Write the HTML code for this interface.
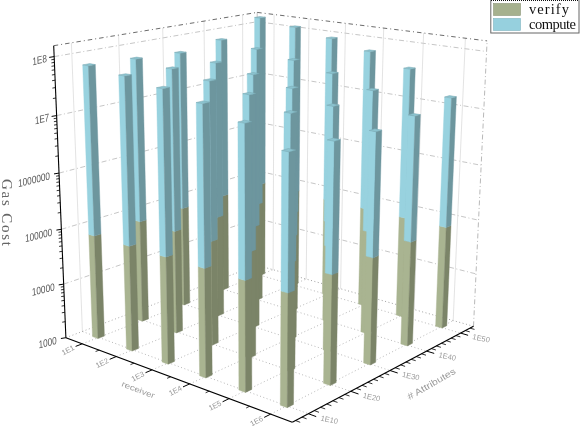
<!DOCTYPE html>
<html><head><meta charset="utf-8"><title>Gas Cost</title>
<style>html,body{margin:0;padding:0;background:#fff;}body{width:580px;height:426px;overflow:hidden;position:relative;}</style>
</head><body>
<svg width="580" height="426" viewBox="0 0 580 426" style="position:absolute;left:0;top:0">
<rect width="580" height="426" fill="#fff"/>
<line x1="63.7" y1="284.1" x2="257.1" y2="218.5" stroke="#a0a0a0" stroke-width="0.6" stroke-dasharray="5 2.5 1 2.5"/>
<line x1="257.1" y1="218.5" x2="476.0" y2="273.9" stroke="#a0a0a0" stroke-width="0.6" stroke-dasharray="5 2.5 1 2.5"/>
<line x1="61.4" y1="229.3" x2="257.1" y2="170.8" stroke="#a0a0a0" stroke-width="0.6" stroke-dasharray="5 2.5 1 2.5"/>
<line x1="257.1" y1="170.8" x2="478.6" y2="220.2" stroke="#a0a0a0" stroke-width="0.6" stroke-dasharray="5 2.5 1 2.5"/>
<line x1="59.0" y1="173.1" x2="257.1" y2="122.1" stroke="#a0a0a0" stroke-width="0.6" stroke-dasharray="5 2.5 1 2.5"/>
<line x1="257.1" y1="122.1" x2="481.2" y2="165.3" stroke="#a0a0a0" stroke-width="0.6" stroke-dasharray="5 2.5 1 2.5"/>
<line x1="56.6" y1="115.6" x2="257.2" y2="72.4" stroke="#a0a0a0" stroke-width="0.6" stroke-dasharray="5 2.5 1 2.5"/>
<line x1="257.2" y1="72.4" x2="483.9" y2="109.1" stroke="#a0a0a0" stroke-width="0.6" stroke-dasharray="5 2.5 1 2.5"/>
<line x1="54.2" y1="56.6" x2="257.2" y2="21.7" stroke="#a0a0a0" stroke-width="0.6" stroke-dasharray="5 2.5 1 2.5"/>
<line x1="257.2" y1="21.7" x2="486.6" y2="51.5" stroke="#a0a0a0" stroke-width="0.6" stroke-dasharray="5 2.5 1 2.5"/>
<line x1="82.4" y1="331.5" x2="71.4" y2="42.8" stroke="#d0d0d0" stroke-width="0.6"/>
<line x1="82.4" y1="331.5" x2="308.3" y2="413.7" stroke="#999" stroke-width="0.7" stroke-dasharray="1 2.5"/>
<line x1="126.6" y1="314.7" x2="118.6" y2="35.1" stroke="#d0d0d0" stroke-width="0.6"/>
<line x1="126.6" y1="314.7" x2="350.7" y2="391.3" stroke="#999" stroke-width="0.7" stroke-dasharray="1 2.5"/>
<line x1="167.9" y1="299.0" x2="162.7" y2="27.9" stroke="#d0d0d0" stroke-width="0.6"/>
<line x1="167.9" y1="299.0" x2="390.0" y2="370.5" stroke="#999" stroke-width="0.7" stroke-dasharray="1 2.5"/>
<line x1="206.8" y1="284.3" x2="204.0" y2="21.1" stroke="#d0d0d0" stroke-width="0.6"/>
<line x1="206.8" y1="284.3" x2="426.6" y2="351.1" stroke="#999" stroke-width="0.7" stroke-dasharray="1 2.5"/>
<line x1="243.3" y1="270.4" x2="242.6" y2="14.8" stroke="#d0d0d0" stroke-width="0.6"/>
<line x1="243.3" y1="270.4" x2="460.7" y2="333.1" stroke="#999" stroke-width="0.7" stroke-dasharray="1 2.5"/>
<line x1="273.1" y1="269.7" x2="274.1" y2="14.5" stroke="#d0d0d0" stroke-width="0.6"/>
<line x1="82.3" y1="343.8" x2="273.1" y2="269.7" stroke="#999" stroke-width="0.7" stroke-dasharray="1 2.5"/>
<line x1="306.2" y1="279.1" x2="309.0" y2="18.8" stroke="#d0d0d0" stroke-width="0.6"/>
<line x1="116.4" y1="356.5" x2="306.2" y2="279.1" stroke="#999" stroke-width="0.7" stroke-dasharray="1 2.5"/>
<line x1="340.6" y1="288.8" x2="345.5" y2="23.3" stroke="#d0d0d0" stroke-width="0.6"/>
<line x1="152.1" y1="369.9" x2="340.6" y2="288.8" stroke="#999" stroke-width="0.7" stroke-dasharray="1 2.5"/>
<line x1="376.6" y1="298.9" x2="383.7" y2="28.1" stroke="#d0d0d0" stroke-width="0.6"/>
<line x1="189.7" y1="383.9" x2="376.6" y2="298.9" stroke="#999" stroke-width="0.7" stroke-dasharray="1 2.5"/>
<line x1="414.1" y1="309.5" x2="423.6" y2="33.0" stroke="#d0d0d0" stroke-width="0.6"/>
<line x1="229.1" y1="398.6" x2="414.1" y2="309.5" stroke="#999" stroke-width="0.7" stroke-dasharray="1 2.5"/>
<line x1="453.2" y1="320.6" x2="465.4" y2="38.2" stroke="#d0d0d0" stroke-width="0.6"/>
<line x1="270.7" y1="414.1" x2="453.2" y2="320.6" stroke="#999" stroke-width="0.7" stroke-dasharray="1 2.5"/>
<line x1="65.9" y1="337.7" x2="257.1" y2="265.2" stroke="#888" stroke-width="0.7" stroke-dasharray="1 2.5"/>
<line x1="257.1" y1="265.2" x2="473.5" y2="326.3" stroke="#777" stroke-width="0.7" stroke-dasharray="1 2.5"/>
<line x1="257.1" y1="265.2" x2="257.2" y2="12.4" stroke="#aaa" stroke-width="0.7"/>
<line x1="473.5" y1="326.3" x2="487.1" y2="40.9" stroke="#999" stroke-width="0.7" stroke-dasharray="5 2.5 1 2.5"/>
<line x1="53.7" y1="45.7" x2="257.2" y2="12.4" stroke="#3a3a3a" stroke-width="0.75" stroke-dasharray="4.5 3 1 3"/>
<line x1="257.2" y1="12.4" x2="487.1" y2="40.9" stroke="#3a3a3a" stroke-width="0.75" stroke-dasharray="4.5 3 1 3"/>
<polygon points="254.6,274.0 259.9,275.5 260.0,184.5 254.6,183.2" fill="#a9b491" stroke="#a9b491" stroke-width="0.4" stroke-linejoin="round"/>
<polygon points="259.9,275.5 264.9,273.6 265.1,182.9 260.0,184.5" fill="#7b8468" stroke="#7b8468" stroke-width="0.4" stroke-linejoin="round"/>
<polygon points="254.6,183.2 260.0,184.5 260.1,18.1 254.6,17.4" fill="#98d2df" stroke="#98d2df" stroke-width="0.4" stroke-linejoin="round"/>
<polygon points="260.0,184.5 265.1,182.9 265.4,17.2 260.1,18.1" fill="#6d969e" stroke="#6d969e" stroke-width="0.4" stroke-linejoin="round"/>
<polygon points="254.6,17.4 260.1,18.1 265.4,17.2 259.9,16.5" fill="#8bc3cf" stroke="#7aa9b3" stroke-width="0.5" stroke-linejoin="round"/>
<polygon points="287.8,283.6 293.3,285.2 294.0,192.4 288.4,191.1" fill="#a9b491" stroke="#a9b491" stroke-width="0.4" stroke-linejoin="round"/>
<polygon points="293.3,285.2 298.2,283.2 299.1,190.7 294.0,192.4" fill="#7b8468" stroke="#7b8468" stroke-width="0.4" stroke-linejoin="round"/>
<polygon points="288.4,191.1 294.0,192.4 295.4,27.5 289.6,26.7" fill="#98d2df" stroke="#98d2df" stroke-width="0.4" stroke-linejoin="round"/>
<polygon points="294.0,192.4 299.1,190.7 300.6,26.5 295.4,27.5" fill="#6d969e" stroke="#6d969e" stroke-width="0.4" stroke-linejoin="round"/>
<polygon points="289.6,26.7 295.4,27.5 300.6,26.5 294.8,25.8" fill="#8bc3cf" stroke="#7aa9b3" stroke-width="0.5" stroke-linejoin="round"/>
<polygon points="322.4,293.6 328.1,295.2 329.6,200.6 323.7,199.2" fill="#a9b491" stroke="#a9b491" stroke-width="0.4" stroke-linejoin="round"/>
<polygon points="328.1,295.2 333.0,293.1 334.6,198.9 329.6,200.6" fill="#7b8468" stroke="#7b8468" stroke-width="0.4" stroke-linejoin="round"/>
<polygon points="323.7,199.2 329.6,200.6 332.1,38.7 326.1,37.9" fill="#98d2df" stroke="#98d2df" stroke-width="0.4" stroke-linejoin="round"/>
<polygon points="329.6,200.6 334.6,198.9 337.3,37.7 332.1,38.7" fill="#6d969e" stroke="#6d969e" stroke-width="0.4" stroke-linejoin="round"/>
<polygon points="326.1,37.9 332.1,38.7 337.3,37.7 331.3,36.9" fill="#8bc3cf" stroke="#7aa9b3" stroke-width="0.5" stroke-linejoin="round"/>
<polygon points="358.5,304.0 364.4,305.7 366.7,209.2 360.6,207.8" fill="#a9b491" stroke="#a9b491" stroke-width="0.4" stroke-linejoin="round"/>
<polygon points="364.4,305.7 369.3,303.5 371.7,207.4 366.7,209.2" fill="#7b8468" stroke="#7b8468" stroke-width="0.4" stroke-linejoin="round"/>
<polygon points="360.6,207.8 366.7,209.2 370.4,51.8 364.1,50.9" fill="#98d2df" stroke="#98d2df" stroke-width="0.4" stroke-linejoin="round"/>
<polygon points="366.7,209.2 371.7,207.4 375.6,50.7 370.4,51.8" fill="#6d969e" stroke="#6d969e" stroke-width="0.4" stroke-linejoin="round"/>
<polygon points="364.1,50.9 370.4,51.8 375.6,50.7 369.2,49.8" fill="#8bc3cf" stroke="#7aa9b3" stroke-width="0.5" stroke-linejoin="round"/>
<polygon points="396.2,314.9 402.4,316.7 405.6,218.2 399.2,216.7" fill="#a9b491" stroke="#a9b491" stroke-width="0.4" stroke-linejoin="round"/>
<polygon points="402.4,316.7 407.2,314.4 410.4,216.3 405.6,218.2" fill="#7b8468" stroke="#7b8468" stroke-width="0.4" stroke-linejoin="round"/>
<polygon points="399.2,216.7 405.6,218.2 410.3,69.2 403.7,68.2" fill="#98d2df" stroke="#98d2df" stroke-width="0.4" stroke-linejoin="round"/>
<polygon points="405.6,218.2 410.4,216.3 415.3,68.0 410.3,69.2" fill="#6d969e" stroke="#6d969e" stroke-width="0.4" stroke-linejoin="round"/>
<polygon points="403.7,68.2 410.3,69.2 415.3,68.0 408.8,67.0" fill="#8bc3cf" stroke="#7aa9b3" stroke-width="0.5" stroke-linejoin="round"/>
<polygon points="435.6,326.3 442.1,328.1 446.2,227.6 439.5,226.0" fill="#a9b491" stroke="#a9b491" stroke-width="0.4" stroke-linejoin="round"/>
<polygon points="442.1,328.1 446.8,325.7 451.0,225.6 446.2,227.6" fill="#7b8468" stroke="#7b8468" stroke-width="0.4" stroke-linejoin="round"/>
<polygon points="439.5,226.0 446.2,227.6 451.5,98.1 444.6,97.0" fill="#98d2df" stroke="#98d2df" stroke-width="0.4" stroke-linejoin="round"/>
<polygon points="446.2,227.6 451.0,225.6 456.4,96.7 451.5,98.1" fill="#6d969e" stroke="#6d969e" stroke-width="0.4" stroke-linejoin="round"/>
<polygon points="444.6,97.0 451.5,98.1 456.4,96.7 449.5,95.6" fill="#8bc3cf" stroke="#7aa9b3" stroke-width="0.5" stroke-linejoin="round"/>
<polygon points="217.9,288.2 223.2,289.8 222.5,196.1 217.1,194.8" fill="#a9b491" stroke="#a9b491" stroke-width="0.4" stroke-linejoin="round"/>
<polygon points="223.2,289.8 228.5,287.7 228.0,194.4 222.5,196.1" fill="#7b8468" stroke="#7b8468" stroke-width="0.4" stroke-linejoin="round"/>
<polygon points="217.1,194.8 222.5,196.1 221.4,40.3 215.8,39.5" fill="#98d2df" stroke="#98d2df" stroke-width="0.4" stroke-linejoin="round"/>
<polygon points="222.5,196.1 228.0,194.4 227.0,39.3 221.4,40.3" fill="#6d969e" stroke="#6d969e" stroke-width="0.4" stroke-linejoin="round"/>
<polygon points="215.8,39.5 221.4,40.3 227.0,39.3 221.5,38.5" fill="#8bc3cf" stroke="#7aa9b3" stroke-width="0.5" stroke-linejoin="round"/>
<polygon points="251.3,298.4 256.9,300.1 256.9,204.5 251.2,203.1" fill="#a9b491" stroke="#a9b491" stroke-width="0.4" stroke-linejoin="round"/>
<polygon points="256.9,300.1 262.2,297.9 262.3,202.8 256.9,204.5" fill="#7b8468" stroke="#7b8468" stroke-width="0.4" stroke-linejoin="round"/>
<polygon points="251.2,203.1 256.9,204.5 256.9,49.4 251.1,48.5" fill="#98d2df" stroke="#98d2df" stroke-width="0.4" stroke-linejoin="round"/>
<polygon points="256.9,204.5 262.3,202.8 262.5,48.3 256.9,49.4" fill="#6d969e" stroke="#6d969e" stroke-width="0.4" stroke-linejoin="round"/>
<polygon points="251.1,48.5 256.9,49.4 262.5,48.3 256.7,47.5" fill="#8bc3cf" stroke="#7aa9b3" stroke-width="0.5" stroke-linejoin="round"/>
<polygon points="286.2,309.0 292.0,310.8 292.8,213.3 286.9,211.9" fill="#a9b491" stroke="#a9b491" stroke-width="0.4" stroke-linejoin="round"/>
<polygon points="292.0,310.8 297.3,308.5 298.1,211.5 292.8,213.3" fill="#7b8468" stroke="#7b8468" stroke-width="0.4" stroke-linejoin="round"/>
<polygon points="286.9,211.9 292.8,213.3 294.0,60.5 287.9,59.6" fill="#98d2df" stroke="#98d2df" stroke-width="0.4" stroke-linejoin="round"/>
<polygon points="292.8,213.3 298.1,211.5 299.5,59.3 294.0,60.5" fill="#6d969e" stroke="#6d969e" stroke-width="0.4" stroke-linejoin="round"/>
<polygon points="287.9,59.6 294.0,60.5 299.5,59.3 293.4,58.4" fill="#8bc3cf" stroke="#7aa9b3" stroke-width="0.5" stroke-linejoin="round"/>
<polygon points="322.7,320.1 328.8,322.0 330.3,222.5 324.2,221.0" fill="#a9b491" stroke="#a9b491" stroke-width="0.4" stroke-linejoin="round"/>
<polygon points="328.8,322.0 333.9,319.6 335.6,220.6 330.3,222.5" fill="#7b8468" stroke="#7b8468" stroke-width="0.4" stroke-linejoin="round"/>
<polygon points="324.2,221.0 330.3,222.5 332.7,73.8 326.3,72.8" fill="#98d2df" stroke="#98d2df" stroke-width="0.4" stroke-linejoin="round"/>
<polygon points="330.3,222.5 335.6,220.6 338.2,72.5 332.7,73.8" fill="#6d969e" stroke="#6d969e" stroke-width="0.4" stroke-linejoin="round"/>
<polygon points="326.3,72.8 332.7,73.8 338.2,72.5 331.8,71.6" fill="#8bc3cf" stroke="#7aa9b3" stroke-width="0.5" stroke-linejoin="round"/>
<polygon points="360.9,331.8 367.2,333.7 369.7,232.1 363.2,230.5" fill="#a9b491" stroke="#a9b491" stroke-width="0.4" stroke-linejoin="round"/>
<polygon points="367.2,333.7 372.3,331.2 374.9,230.1 369.7,232.1" fill="#7b8468" stroke="#7b8468" stroke-width="0.4" stroke-linejoin="round"/>
<polygon points="363.2,230.5 369.7,232.1 373.1,90.7 366.5,89.6" fill="#98d2df" stroke="#98d2df" stroke-width="0.4" stroke-linejoin="round"/>
<polygon points="369.7,232.1 374.9,230.1 378.5,89.3 373.1,90.7" fill="#6d969e" stroke="#6d969e" stroke-width="0.4" stroke-linejoin="round"/>
<polygon points="366.5,89.6 373.1,90.7 378.5,89.3 371.8,88.3" fill="#8bc3cf" stroke="#7aa9b3" stroke-width="0.5" stroke-linejoin="round"/>
<polygon points="400.8,343.9 407.4,345.9 410.9,242.2 404.1,240.5" fill="#a9b491" stroke="#a9b491" stroke-width="0.4" stroke-linejoin="round"/>
<polygon points="407.4,345.9 412.5,343.3 416.1,240.1 410.9,242.2" fill="#7b8468" stroke="#7b8468" stroke-width="0.4" stroke-linejoin="round"/>
<polygon points="404.1,240.5 410.9,242.2 415.1,116.1 408.1,114.9" fill="#98d2df" stroke="#98d2df" stroke-width="0.4" stroke-linejoin="round"/>
<polygon points="410.9,242.2 416.1,240.1 420.4,114.6 415.1,116.1" fill="#6d969e" stroke="#6d969e" stroke-width="0.4" stroke-linejoin="round"/>
<polygon points="408.1,114.9 415.1,116.1 420.4,114.6 413.4,113.4" fill="#8bc3cf" stroke="#7aa9b3" stroke-width="0.5" stroke-linejoin="round"/>
<polygon points="178.8,303.3 184.1,305.0 182.6,208.6 177.2,207.1" fill="#a9b491" stroke="#a9b491" stroke-width="0.4" stroke-linejoin="round"/>
<polygon points="184.1,305.0 189.8,302.8 188.4,206.7 182.6,208.6" fill="#7b8468" stroke="#7b8468" stroke-width="0.4" stroke-linejoin="round"/>
<polygon points="177.2,207.1 182.6,208.6 180.2,53.3 174.6,52.4" fill="#98d2df" stroke="#98d2df" stroke-width="0.4" stroke-linejoin="round"/>
<polygon points="182.6,208.6 188.4,206.7 186.2,52.2 180.2,53.3" fill="#6d969e" stroke="#6d969e" stroke-width="0.4" stroke-linejoin="round"/>
<polygon points="174.6,52.4 180.2,53.3 186.2,52.2 180.6,51.3" fill="#8bc3cf" stroke="#7aa9b3" stroke-width="0.5" stroke-linejoin="round"/>
<polygon points="212.5,314.2 218.0,316.0 217.2,217.5 211.5,216.0" fill="#a9b491" stroke="#a9b491" stroke-width="0.4" stroke-linejoin="round"/>
<polygon points="218.0,316.0 223.7,313.6 223.0,215.6 217.2,217.5" fill="#7b8468" stroke="#7b8468" stroke-width="0.4" stroke-linejoin="round"/>
<polygon points="211.5,216.0 217.2,217.5 215.9,63.1 210.1,62.2" fill="#98d2df" stroke="#98d2df" stroke-width="0.4" stroke-linejoin="round"/>
<polygon points="217.2,217.5 223.0,215.6 221.9,61.9 215.9,63.1" fill="#6d969e" stroke="#6d969e" stroke-width="0.4" stroke-linejoin="round"/>
<polygon points="210.1,62.2 215.9,63.1 221.9,61.9 216.0,61.0" fill="#8bc3cf" stroke="#7aa9b3" stroke-width="0.5" stroke-linejoin="round"/>
<polygon points="247.7,325.5 253.5,327.4 253.4,226.9 247.5,225.4" fill="#a9b491" stroke="#a9b491" stroke-width="0.4" stroke-linejoin="round"/>
<polygon points="253.5,327.4 259.1,325.0 259.2,224.9 253.4,226.9" fill="#7b8468" stroke="#7b8468" stroke-width="0.4" stroke-linejoin="round"/>
<polygon points="247.5,225.4 253.4,226.9 253.4,74.8 247.2,73.8" fill="#98d2df" stroke="#98d2df" stroke-width="0.4" stroke-linejoin="round"/>
<polygon points="253.4,226.9 259.2,224.9 259.3,73.5 253.4,74.8" fill="#6d969e" stroke="#6d969e" stroke-width="0.4" stroke-linejoin="round"/>
<polygon points="247.2,73.8 253.4,74.8 259.3,73.5 253.1,72.5" fill="#8bc3cf" stroke="#7aa9b3" stroke-width="0.5" stroke-linejoin="round"/>
<polygon points="284.5,337.4 290.6,339.4 291.4,236.7 285.1,235.1" fill="#a9b491" stroke="#a9b491" stroke-width="0.4" stroke-linejoin="round"/>
<polygon points="290.6,339.4 296.2,336.8 297.1,234.7 291.4,236.7" fill="#7b8468" stroke="#7b8468" stroke-width="0.4" stroke-linejoin="round"/>
<polygon points="285.1,235.1 291.4,236.7 292.5,88.6 286.1,87.5" fill="#98d2df" stroke="#98d2df" stroke-width="0.4" stroke-linejoin="round"/>
<polygon points="291.4,236.7 297.1,234.7 298.4,87.2 292.5,88.6" fill="#6d969e" stroke="#6d969e" stroke-width="0.4" stroke-linejoin="round"/>
<polygon points="286.1,87.5 292.5,88.6 298.4,87.2 291.9,86.1" fill="#8bc3cf" stroke="#7aa9b3" stroke-width="0.5" stroke-linejoin="round"/>
<polygon points="323.1,349.8 329.5,351.9 331.2,247.1 324.6,245.4" fill="#a9b491" stroke="#a9b491" stroke-width="0.4" stroke-linejoin="round"/>
<polygon points="329.5,351.9 335.0,349.2 336.8,244.9 331.2,247.1" fill="#7b8468" stroke="#7b8468" stroke-width="0.4" stroke-linejoin="round"/>
<polygon points="324.6,245.4 331.2,247.1 333.5,106.4 326.7,105.2" fill="#98d2df" stroke="#98d2df" stroke-width="0.4" stroke-linejoin="round"/>
<polygon points="331.2,247.1 336.8,244.9 339.2,104.9 333.5,106.4" fill="#6d969e" stroke="#6d969e" stroke-width="0.4" stroke-linejoin="round"/>
<polygon points="326.7,105.2 333.5,106.4 339.2,104.9 332.5,103.7" fill="#8bc3cf" stroke="#7aa9b3" stroke-width="0.5" stroke-linejoin="round"/>
<polygon points="363.6,362.9 370.3,365.0 373.0,257.9 366.1,256.1" fill="#a9b491" stroke="#a9b491" stroke-width="0.4" stroke-linejoin="round"/>
<polygon points="370.3,365.0 375.7,362.3 378.5,255.6 373.0,257.9" fill="#7b8468" stroke="#7b8468" stroke-width="0.4" stroke-linejoin="round"/>
<polygon points="366.1,256.1 373.0,257.9 376.2,131.8 369.1,130.5" fill="#98d2df" stroke="#98d2df" stroke-width="0.4" stroke-linejoin="round"/>
<polygon points="373.0,257.9 378.5,255.6 381.8,130.1 376.2,131.8" fill="#6d969e" stroke="#6d969e" stroke-width="0.4" stroke-linejoin="round"/>
<polygon points="369.1,130.5 376.2,131.8 381.8,130.1 374.8,128.8" fill="#8bc3cf" stroke="#7aa9b3" stroke-width="0.5" stroke-linejoin="round"/>
<polygon points="137.1,319.4 142.4,321.2 140.0,221.8 134.5,220.3" fill="#a9b491" stroke="#a9b491" stroke-width="0.4" stroke-linejoin="round"/>
<polygon points="142.4,321.2 148.5,318.9 146.2,219.9 140.0,221.8" fill="#7b8468" stroke="#7b8468" stroke-width="0.4" stroke-linejoin="round"/>
<polygon points="134.5,220.3 140.0,221.8 135.9,59.2 130.3,58.3" fill="#98d2df" stroke="#98d2df" stroke-width="0.4" stroke-linejoin="round"/>
<polygon points="140.0,221.8 146.2,219.9 142.4,58.0 135.9,59.2" fill="#6d969e" stroke="#6d969e" stroke-width="0.4" stroke-linejoin="round"/>
<polygon points="130.3,58.3 135.9,59.2 142.4,58.0 136.7,57.1" fill="#8bc3cf" stroke="#7aa9b3" stroke-width="0.5" stroke-linejoin="round"/>
<polygon points="170.9,331.0 176.5,332.9 174.8,231.4 169.1,229.8" fill="#a9b491" stroke="#a9b491" stroke-width="0.4" stroke-linejoin="round"/>
<polygon points="176.5,332.9 182.6,330.5 181.0,229.4 174.8,231.4" fill="#7b8468" stroke="#7b8468" stroke-width="0.4" stroke-linejoin="round"/>
<polygon points="169.1,229.8 174.8,231.4 172.0,69.1 166.0,68.1" fill="#98d2df" stroke="#98d2df" stroke-width="0.4" stroke-linejoin="round"/>
<polygon points="174.8,231.4 181.0,229.4 178.4,67.8 172.0,69.1" fill="#6d969e" stroke="#6d969e" stroke-width="0.4" stroke-linejoin="round"/>
<polygon points="166.0,68.1 172.0,69.1 178.4,67.8 172.5,66.8" fill="#8bc3cf" stroke="#7aa9b3" stroke-width="0.5" stroke-linejoin="round"/>
<polygon points="206.4,343.1 212.3,345.2 211.3,241.5 205.3,239.8" fill="#a9b491" stroke="#a9b491" stroke-width="0.4" stroke-linejoin="round"/>
<polygon points="212.3,345.2 218.3,342.6 217.4,239.4 211.3,241.5" fill="#7b8468" stroke="#7b8468" stroke-width="0.4" stroke-linejoin="round"/>
<polygon points="205.3,239.8 211.3,241.5 209.7,81.1 203.5,80.0" fill="#98d2df" stroke="#98d2df" stroke-width="0.4" stroke-linejoin="round"/>
<polygon points="211.3,241.5 217.4,239.4 216.1,79.7 209.7,81.1" fill="#6d969e" stroke="#6d969e" stroke-width="0.4" stroke-linejoin="round"/>
<polygon points="203.5,80.0 209.7,81.1 216.1,79.7 209.9,78.7" fill="#8bc3cf" stroke="#7aa9b3" stroke-width="0.5" stroke-linejoin="round"/>
<polygon points="243.6,355.9 249.7,358.0 249.6,252.0 243.3,250.3" fill="#a9b491" stroke="#a9b491" stroke-width="0.4" stroke-linejoin="round"/>
<polygon points="249.7,358.0 255.7,355.3 255.7,249.8 249.6,252.0" fill="#7b8468" stroke="#7b8468" stroke-width="0.4" stroke-linejoin="round"/>
<polygon points="243.3,250.3 249.6,252.0 249.4,94.9 242.8,93.7" fill="#98d2df" stroke="#98d2df" stroke-width="0.4" stroke-linejoin="round"/>
<polygon points="249.6,252.0 255.7,249.8 255.7,93.4 249.4,94.9" fill="#6d969e" stroke="#6d969e" stroke-width="0.4" stroke-linejoin="round"/>
<polygon points="242.8,93.7 249.4,94.9 255.7,93.4 249.2,92.3" fill="#8bc3cf" stroke="#7aa9b3" stroke-width="0.5" stroke-linejoin="round"/>
<polygon points="282.6,369.2 289.0,371.4 289.8,263.1 283.2,261.3" fill="#a9b491" stroke="#a9b491" stroke-width="0.4" stroke-linejoin="round"/>
<polygon points="289.0,371.4 294.9,368.6 295.9,260.8 289.8,263.1" fill="#7b8468" stroke="#7b8468" stroke-width="0.4" stroke-linejoin="round"/>
<polygon points="283.2,261.3 289.8,263.1 290.9,113.4 284.1,112.1" fill="#98d2df" stroke="#98d2df" stroke-width="0.4" stroke-linejoin="round"/>
<polygon points="289.8,263.1 295.9,260.8 297.1,111.8 290.9,113.4" fill="#6d969e" stroke="#6d969e" stroke-width="0.4" stroke-linejoin="round"/>
<polygon points="284.1,112.1 290.9,113.4 297.1,111.8 290.3,110.6" fill="#8bc3cf" stroke="#7aa9b3" stroke-width="0.5" stroke-linejoin="round"/>
<polygon points="323.5,383.3 330.3,385.6 332.2,274.8 325.2,272.9" fill="#a9b491" stroke="#a9b491" stroke-width="0.4" stroke-linejoin="round"/>
<polygon points="330.3,385.6 336.2,382.6 338.1,272.3 332.2,274.8" fill="#7b8468" stroke="#7b8468" stroke-width="0.4" stroke-linejoin="round"/>
<polygon points="325.2,272.9 332.2,274.8 334.4,141.3 327.2,139.9" fill="#98d2df" stroke="#98d2df" stroke-width="0.4" stroke-linejoin="round"/>
<polygon points="332.2,274.8 338.1,272.3 340.5,139.5 334.4,141.3" fill="#6d969e" stroke="#6d969e" stroke-width="0.4" stroke-linejoin="round"/>
<polygon points="327.2,139.9 334.4,141.3 340.5,139.5 333.3,138.1" fill="#8bc3cf" stroke="#7aa9b3" stroke-width="0.5" stroke-linejoin="round"/>
<polygon points="92.5,336.6 97.9,338.6 94.3,236.0 88.8,234.4" fill="#a9b491" stroke="#a9b491" stroke-width="0.4" stroke-linejoin="round"/>
<polygon points="97.9,338.6 104.4,336.1 101.0,234.0 94.3,236.0" fill="#7b8468" stroke="#7b8468" stroke-width="0.4" stroke-linejoin="round"/>
<polygon points="88.8,234.4 94.3,236.0 88.4,65.9 82.7,64.9" fill="#98d2df" stroke="#98d2df" stroke-width="0.4" stroke-linejoin="round"/>
<polygon points="94.3,236.0 101.0,234.0 95.3,64.6 88.4,65.9" fill="#6d969e" stroke="#6d969e" stroke-width="0.4" stroke-linejoin="round"/>
<polygon points="82.7,64.9 88.4,65.9 95.3,64.6 89.7,63.6" fill="#8bc3cf" stroke="#7aa9b3" stroke-width="0.5" stroke-linejoin="round"/>
<polygon points="126.5,349.0 132.1,351.1 129.3,246.3 123.5,244.6" fill="#a9b491" stroke="#a9b491" stroke-width="0.4" stroke-linejoin="round"/>
<polygon points="132.1,351.1 138.6,348.4 135.9,244.2 129.3,246.3" fill="#7b8468" stroke="#7b8468" stroke-width="0.4" stroke-linejoin="round"/>
<polygon points="123.5,244.6 129.3,246.3 124.6,76.1 118.7,75.0" fill="#98d2df" stroke="#98d2df" stroke-width="0.4" stroke-linejoin="round"/>
<polygon points="129.3,246.3 135.9,244.2 131.5,74.7 124.6,76.1" fill="#6d969e" stroke="#6d969e" stroke-width="0.4" stroke-linejoin="round"/>
<polygon points="118.7,75.0 124.6,76.1 131.5,74.7 125.6,73.7" fill="#8bc3cf" stroke="#7aa9b3" stroke-width="0.5" stroke-linejoin="round"/>
<polygon points="162.1,362.1 168.1,364.2 166.0,257.1 159.9,255.4" fill="#a9b491" stroke="#a9b491" stroke-width="0.4" stroke-linejoin="round"/>
<polygon points="168.1,364.2 174.5,361.4 172.6,254.9 166.0,257.1" fill="#7b8468" stroke="#7b8468" stroke-width="0.4" stroke-linejoin="round"/>
<polygon points="159.9,255.4 166.0,257.1 162.7,88.8 156.5,87.7" fill="#98d2df" stroke="#98d2df" stroke-width="0.4" stroke-linejoin="round"/>
<polygon points="166.0,257.1 172.6,254.9 169.6,87.3 162.7,88.8" fill="#6d969e" stroke="#6d969e" stroke-width="0.4" stroke-linejoin="round"/>
<polygon points="156.5,87.7 162.7,88.8 169.6,87.3 163.3,86.2" fill="#8bc3cf" stroke="#7aa9b3" stroke-width="0.5" stroke-linejoin="round"/>
<polygon points="199.6,375.7 205.8,378.0 204.6,268.5 198.2,266.6" fill="#a9b491" stroke="#a9b491" stroke-width="0.4" stroke-linejoin="round"/>
<polygon points="205.8,378.0 212.2,375.1 211.1,266.1 204.6,268.5" fill="#7b8468" stroke="#7b8468" stroke-width="0.4" stroke-linejoin="round"/>
<polygon points="198.2,266.6 204.6,268.5 202.7,103.7 196.2,102.5" fill="#98d2df" stroke="#98d2df" stroke-width="0.4" stroke-linejoin="round"/>
<polygon points="204.6,268.5 211.1,266.1 209.6,102.1 202.7,103.7" fill="#6d969e" stroke="#6d969e" stroke-width="0.4" stroke-linejoin="round"/>
<polygon points="196.2,102.5 202.7,103.7 209.6,102.1 203.0,100.9" fill="#8bc3cf" stroke="#7aa9b3" stroke-width="0.5" stroke-linejoin="round"/>
<polygon points="238.9,390.1 245.5,392.5 245.2,280.5 238.5,278.5" fill="#a9b491" stroke="#a9b491" stroke-width="0.4" stroke-linejoin="round"/>
<polygon points="245.5,392.5 251.8,389.4 251.7,277.9 245.2,280.5" fill="#7b8468" stroke="#7b8468" stroke-width="0.4" stroke-linejoin="round"/>
<polygon points="238.5,278.5 245.2,280.5 244.8,123.3 237.9,122.0" fill="#98d2df" stroke="#98d2df" stroke-width="0.4" stroke-linejoin="round"/>
<polygon points="245.2,280.5 251.7,277.9 251.6,121.6 244.8,123.3" fill="#6d969e" stroke="#6d969e" stroke-width="0.4" stroke-linejoin="round"/>
<polygon points="237.9,122.0 244.8,123.3 251.6,121.6 244.7,120.2" fill="#8bc3cf" stroke="#7aa9b3" stroke-width="0.5" stroke-linejoin="round"/>
<polygon points="280.3,405.2 287.2,407.7 288.0,293.1 281.0,291.0" fill="#a9b491" stroke="#a9b491" stroke-width="0.4" stroke-linejoin="round"/>
<polygon points="287.2,407.7 293.5,404.5 294.5,290.4 288.0,293.1" fill="#7b8468" stroke="#7b8468" stroke-width="0.4" stroke-linejoin="round"/>
<polygon points="281.0,291.0 288.0,293.1 289.0,151.9 281.7,150.4" fill="#98d2df" stroke="#98d2df" stroke-width="0.4" stroke-linejoin="round"/>
<polygon points="288.0,293.1 294.5,290.4 295.7,150.0 289.0,151.9" fill="#6d969e" stroke="#6d969e" stroke-width="0.4" stroke-linejoin="round"/>
<polygon points="281.7,150.4 289.0,151.9 295.7,150.0 288.4,148.5" fill="#8bc3cf" stroke="#7aa9b3" stroke-width="0.5" stroke-linejoin="round"/>
<line x1="65.9" y1="337.7" x2="53.7" y2="45.7" stroke="#000" stroke-width="1.1"/>
<line x1="65.9" y1="337.7" x2="292.3" y2="422.2" stroke="#000" stroke-width="1.2"/>
<line x1="292.3" y1="422.2" x2="473.5" y2="326.3" stroke="#000" stroke-width="1.2"/>
<line x1="65.9" y1="337.7" x2="60.9" y2="338.5" stroke="#000" stroke-width="1"/>
<line x1="65.2" y1="321.7" x2="62.2" y2="322.2" stroke="#000" stroke-width="0.8"/>
<line x1="64.8" y1="312.3" x2="61.8" y2="312.8" stroke="#000" stroke-width="0.8"/>
<line x1="64.6" y1="305.6" x2="61.6" y2="306.1" stroke="#000" stroke-width="0.8"/>
<line x1="64.3" y1="300.4" x2="61.3" y2="300.9" stroke="#000" stroke-width="0.8"/>
<line x1="64.2" y1="296.1" x2="61.2" y2="296.6" stroke="#000" stroke-width="0.8"/>
<line x1="64.0" y1="292.5" x2="61.0" y2="293.0" stroke="#000" stroke-width="0.8"/>
<line x1="63.9" y1="289.4" x2="60.9" y2="289.9" stroke="#000" stroke-width="0.8"/>
<line x1="63.8" y1="286.6" x2="60.8" y2="287.1" stroke="#000" stroke-width="0.8"/>
<line x1="63.7" y1="284.1" x2="58.7" y2="284.9" stroke="#000" stroke-width="1"/>
<line x1="63.0" y1="267.8" x2="60.0" y2="268.3" stroke="#000" stroke-width="0.8"/>
<line x1="62.6" y1="258.1" x2="59.6" y2="258.6" stroke="#000" stroke-width="0.8"/>
<line x1="62.3" y1="251.3" x2="59.3" y2="251.8" stroke="#000" stroke-width="0.8"/>
<line x1="62.1" y1="245.9" x2="59.1" y2="246.4" stroke="#000" stroke-width="0.8"/>
<line x1="61.9" y1="241.6" x2="58.9" y2="242.1" stroke="#000" stroke-width="0.8"/>
<line x1="61.7" y1="237.9" x2="58.7" y2="238.4" stroke="#000" stroke-width="0.8"/>
<line x1="61.6" y1="234.7" x2="58.6" y2="235.2" stroke="#000" stroke-width="0.8"/>
<line x1="61.5" y1="231.8" x2="58.5" y2="232.3" stroke="#000" stroke-width="0.8"/>
<line x1="61.4" y1="229.3" x2="56.4" y2="230.1" stroke="#000" stroke-width="1"/>
<line x1="60.7" y1="212.5" x2="57.7" y2="213.0" stroke="#000" stroke-width="0.8"/>
<line x1="60.3" y1="202.6" x2="57.3" y2="203.1" stroke="#000" stroke-width="0.8"/>
<line x1="60.0" y1="195.6" x2="57.0" y2="196.1" stroke="#000" stroke-width="0.8"/>
<line x1="59.7" y1="190.2" x2="56.7" y2="190.7" stroke="#000" stroke-width="0.8"/>
<line x1="59.5" y1="185.7" x2="56.5" y2="186.2" stroke="#000" stroke-width="0.8"/>
<line x1="59.4" y1="181.9" x2="56.4" y2="182.4" stroke="#000" stroke-width="0.8"/>
<line x1="59.2" y1="178.6" x2="56.2" y2="179.1" stroke="#000" stroke-width="0.8"/>
<line x1="59.1" y1="175.7" x2="56.1" y2="176.2" stroke="#000" stroke-width="0.8"/>
<line x1="59.0" y1="173.1" x2="54.0" y2="173.9" stroke="#000" stroke-width="1"/>
<line x1="58.3" y1="155.9" x2="55.3" y2="156.4" stroke="#000" stroke-width="0.8"/>
<line x1="57.9" y1="145.8" x2="54.9" y2="146.3" stroke="#000" stroke-width="0.8"/>
<line x1="57.6" y1="138.6" x2="54.6" y2="139.1" stroke="#000" stroke-width="0.8"/>
<line x1="57.3" y1="133.0" x2="54.3" y2="133.5" stroke="#000" stroke-width="0.8"/>
<line x1="57.2" y1="128.4" x2="54.2" y2="128.9" stroke="#000" stroke-width="0.8"/>
<line x1="57.0" y1="124.6" x2="54.0" y2="125.1" stroke="#000" stroke-width="0.8"/>
<line x1="56.9" y1="121.2" x2="53.9" y2="121.7" stroke="#000" stroke-width="0.8"/>
<line x1="56.7" y1="118.2" x2="53.7" y2="118.7" stroke="#000" stroke-width="0.8"/>
<line x1="56.6" y1="115.6" x2="51.6" y2="116.4" stroke="#000" stroke-width="1"/>
<line x1="55.9" y1="98.0" x2="52.9" y2="98.5" stroke="#000" stroke-width="0.8"/>
<line x1="55.4" y1="87.6" x2="52.4" y2="88.1" stroke="#000" stroke-width="0.8"/>
<line x1="55.1" y1="80.2" x2="52.1" y2="80.7" stroke="#000" stroke-width="0.8"/>
<line x1="54.9" y1="74.5" x2="51.9" y2="75.0" stroke="#000" stroke-width="0.8"/>
<line x1="54.7" y1="69.8" x2="51.7" y2="70.3" stroke="#000" stroke-width="0.8"/>
<line x1="54.5" y1="65.8" x2="51.5" y2="66.3" stroke="#000" stroke-width="0.8"/>
<line x1="54.4" y1="62.4" x2="51.4" y2="62.9" stroke="#000" stroke-width="0.8"/>
<line x1="54.3" y1="59.3" x2="51.3" y2="59.8" stroke="#000" stroke-width="0.8"/>
<line x1="54.2" y1="56.6" x2="49.2" y2="57.4" stroke="#000" stroke-width="1"/>
<line x1="82.3" y1="343.8" x2="75.6" y2="346.4" stroke="#000" stroke-width="1"/>
<line x1="99.2" y1="350.1" x2="95.6" y2="351.5" stroke="#000" stroke-width="0.8"/>
<line x1="116.4" y1="356.5" x2="109.7" y2="359.3" stroke="#000" stroke-width="1"/>
<line x1="134.0" y1="363.1" x2="130.5" y2="364.6" stroke="#000" stroke-width="0.8"/>
<line x1="152.1" y1="369.9" x2="145.5" y2="372.7" stroke="#000" stroke-width="1"/>
<line x1="170.7" y1="376.8" x2="167.1" y2="378.3" stroke="#000" stroke-width="0.8"/>
<line x1="189.7" y1="383.9" x2="183.0" y2="386.9" stroke="#000" stroke-width="1"/>
<line x1="209.2" y1="391.1" x2="205.6" y2="392.8" stroke="#000" stroke-width="0.8"/>
<line x1="229.1" y1="398.6" x2="222.6" y2="401.8" stroke="#000" stroke-width="1"/>
<line x1="249.7" y1="406.2" x2="246.2" y2="408.0" stroke="#000" stroke-width="0.8"/>
<line x1="270.7" y1="414.1" x2="264.2" y2="417.4" stroke="#000" stroke-width="1"/>
<line x1="308.3" y1="413.7" x2="316.2" y2="416.6" stroke="#000" stroke-width="1"/>
<line x1="295.4" y1="420.5" x2="300.2" y2="422.3" stroke="#000" stroke-width="0.8"/>
<line x1="301.9" y1="417.1" x2="306.6" y2="418.8" stroke="#000" stroke-width="0.8"/>
<line x1="350.7" y1="391.3" x2="358.5" y2="394.0" stroke="#000" stroke-width="1"/>
<line x1="314.3" y1="410.6" x2="319.0" y2="412.3" stroke="#000" stroke-width="0.8"/>
<line x1="320.5" y1="407.3" x2="325.2" y2="408.9" stroke="#000" stroke-width="0.8"/>
<line x1="326.7" y1="404.0" x2="331.4" y2="405.7" stroke="#000" stroke-width="0.8"/>
<line x1="332.8" y1="400.8" x2="337.5" y2="402.4" stroke="#000" stroke-width="0.8"/>
<line x1="338.8" y1="397.6" x2="343.5" y2="399.2" stroke="#000" stroke-width="0.8"/>
<line x1="344.8" y1="394.4" x2="349.5" y2="396.0" stroke="#000" stroke-width="0.8"/>
<line x1="390.0" y1="370.5" x2="397.7" y2="373.0" stroke="#000" stroke-width="1"/>
<line x1="356.3" y1="388.4" x2="360.9" y2="389.9" stroke="#000" stroke-width="0.8"/>
<line x1="362.0" y1="385.3" x2="366.7" y2="386.9" stroke="#000" stroke-width="0.8"/>
<line x1="367.8" y1="382.3" x2="372.4" y2="383.8" stroke="#000" stroke-width="0.8"/>
<line x1="373.4" y1="379.3" x2="378.0" y2="380.8" stroke="#000" stroke-width="0.8"/>
<line x1="379.0" y1="376.3" x2="383.6" y2="377.8" stroke="#000" stroke-width="0.8"/>
<line x1="384.5" y1="373.4" x2="389.2" y2="374.9" stroke="#000" stroke-width="0.8"/>
<line x1="426.6" y1="351.1" x2="434.2" y2="353.4" stroke="#000" stroke-width="1"/>
<line x1="395.2" y1="367.8" x2="399.8" y2="369.2" stroke="#000" stroke-width="0.8"/>
<line x1="400.6" y1="364.9" x2="405.1" y2="366.4" stroke="#000" stroke-width="0.8"/>
<line x1="405.9" y1="362.1" x2="410.4" y2="363.5" stroke="#000" stroke-width="0.8"/>
<line x1="411.1" y1="359.3" x2="415.7" y2="360.7" stroke="#000" stroke-width="0.8"/>
<line x1="416.3" y1="356.6" x2="420.9" y2="358.0" stroke="#000" stroke-width="0.8"/>
<line x1="421.5" y1="353.8" x2="426.0" y2="355.2" stroke="#000" stroke-width="0.8"/>
<line x1="460.7" y1="333.1" x2="468.1" y2="335.3" stroke="#000" stroke-width="1"/>
<line x1="431.4" y1="348.6" x2="435.9" y2="350.0" stroke="#000" stroke-width="0.8"/>
<line x1="436.4" y1="346.0" x2="440.9" y2="347.3" stroke="#000" stroke-width="0.8"/>
<line x1="441.4" y1="343.3" x2="445.9" y2="344.7" stroke="#000" stroke-width="0.8"/>
<line x1="446.3" y1="340.7" x2="450.8" y2="342.1" stroke="#000" stroke-width="0.8"/>
<line x1="451.1" y1="338.2" x2="455.6" y2="339.5" stroke="#000" stroke-width="0.8"/>
<line x1="455.9" y1="335.6" x2="460.4" y2="336.9" stroke="#000" stroke-width="0.8"/>
<line x1="465.4" y1="330.6" x2="469.8" y2="331.9" stroke="#000" stroke-width="0.8"/>
<line x1="470.1" y1="328.2" x2="474.5" y2="329.4" stroke="#000" stroke-width="0.8"/>
<text x="0" y="0" font-family="Liberation Sans, sans-serif" font-size="10.5" fill="#555" text-anchor="end" transform="translate(56.9 343.9) rotate(-14) skewX(-12) scale(0.8 1)">1000</text>
<text x="0" y="0" font-family="Liberation Sans, sans-serif" font-size="10.5" fill="#555" text-anchor="end" transform="translate(54.7 290.3) rotate(-14) skewX(-12) scale(0.8 1)">10000</text>
<text x="0" y="0" font-family="Liberation Sans, sans-serif" font-size="10.5" fill="#555" text-anchor="end" transform="translate(52.4 235.5) rotate(-14) skewX(-12) scale(0.8 1)">100000</text>
<text x="0" y="0" font-family="Liberation Sans, sans-serif" font-size="10.5" fill="#555" text-anchor="end" transform="translate(50.0 179.3) rotate(-14) skewX(-12) scale(0.8 1)">1000000</text>
<text x="0" y="0" font-family="Liberation Sans, sans-serif" font-size="10.5" fill="#555" text-anchor="end" transform="translate(49.4 120.8) rotate(-14) skewX(-12) scale(0.8 1)">1E7</text>
<text x="0" y="0" font-family="Liberation Sans, sans-serif" font-size="10.5" fill="#555" text-anchor="end" transform="translate(47.0 61.8) rotate(-14) skewX(-12) scale(0.8 1)">1E8</text>
<rect x="490.8" y="-2" width="88.2" height="35" fill="#fff" stroke="#666" stroke-width="1"/><line x1="491" y1="0.5" x2="579" y2="0.5" stroke="#111" stroke-width="1" stroke-dasharray="1 1"/>
<rect x="493.5" y="3.5" width="27" height="12" fill="#a6b18e" stroke="#8d9779" stroke-width="0.6"/>
<rect x="493.5" y="18.5" width="27" height="12" fill="#96d0de" stroke="#7fb4c0" stroke-width="0.6"/>
<text x="529" y="14" font-family="Liberation Serif, serif" font-size="14.5" fill="#111" textLength="40" lengthAdjust="spacing">verify</text>
<text x="529" y="29" font-family="Liberation Serif, serif" font-size="14.5" fill="#111" textLength="47" lengthAdjust="spacing">compute</text>
<text x="2" y="179" font-family="Liberation Serif, serif" font-size="15" fill="#666" transform="rotate(90 2 179)" textLength="67" lengthAdjust="spacing">Gas Cost</text>
<text x="75.1" y="349.4" font-family="Liberation Sans, sans-serif" font-size="7.5" fill="#999" text-anchor="end" transform="rotate(-27 75.1 349.4)">1E1</text>
<text x="109.2" y="362.3" font-family="Liberation Sans, sans-serif" font-size="7.5" fill="#999" text-anchor="end" transform="rotate(-27 109.2 362.3)">1E2</text>
<text x="145.0" y="375.7" font-family="Liberation Sans, sans-serif" font-size="7.5" fill="#999" text-anchor="end" transform="rotate(-27 145.0 375.7)">1E3</text>
<text x="182.5" y="389.9" font-family="Liberation Sans, sans-serif" font-size="7.5" fill="#999" text-anchor="end" transform="rotate(-27 182.5 389.9)">1E4</text>
<text x="222.1" y="404.8" font-family="Liberation Sans, sans-serif" font-size="7.5" fill="#999" text-anchor="end" transform="rotate(-27 222.1 404.8)">1E5</text>
<text x="263.7" y="420.4" font-family="Liberation Sans, sans-serif" font-size="7.5" fill="#999" text-anchor="end" transform="rotate(-27 263.7 420.4)">1E6</text>
<text x="121" y="386" font-family="Liberation Sans, sans-serif" font-size="8" fill="#999" textLength="35" lengthAdjust="spacingAndGlyphs" transform="rotate(21 121 386)">receiver</text>
<text x="320.2" y="420.4" font-family="Liberation Sans, sans-serif" font-size="7.5" fill="#999" transform="rotate(12 320.2 420.4)">1E10</text>
<text x="362.5" y="397.8" font-family="Liberation Sans, sans-serif" font-size="7.5" fill="#999" transform="rotate(12 362.5 397.8)">1E20</text>
<text x="401.7" y="376.8" font-family="Liberation Sans, sans-serif" font-size="7.5" fill="#999" transform="rotate(12 401.7 376.8)">1E30</text>
<text x="438.2" y="357.2" font-family="Liberation Sans, sans-serif" font-size="7.5" fill="#999" transform="rotate(12 438.2 357.2)">1E40</text>
<text x="472.1" y="339.1" font-family="Liberation Sans, sans-serif" font-size="7.5" fill="#999" transform="rotate(12 472.1 339.1)">1E50</text>
<text x="409.6" y="400.1" font-family="Liberation Sans, sans-serif" font-size="9" fill="#999" textLength="54" lengthAdjust="spacingAndGlyphs" transform="rotate(-30 409.6 400.1)"># Attributes</text>
</svg>
</body></html>
